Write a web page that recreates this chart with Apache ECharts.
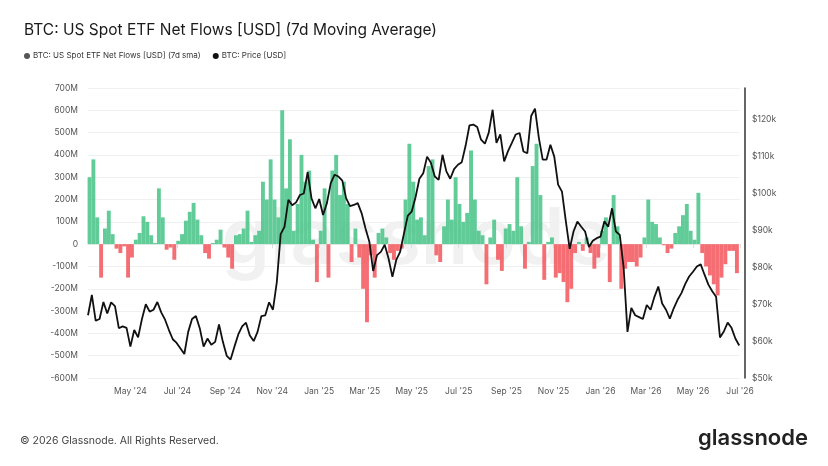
<!DOCTYPE html>
<html><head><meta charset="utf-8">
<script src="https://cdn.jsdelivr.net/npm/echarts@6/dist/echarts.min.js"></script>
<style>html,body{margin:0;padding:0;background:#fff}#c{width:828px;height:466px}</style>
</head><body><div id="c"></div>
<script>
// Axis range (daily categories) and sampling step of the read values
const startDate = '2024-03-07';
const endDate = '2026-07-01';
const sampleStepDays = 5;

// 7d SMA net flows, millions USD, one value every 5 days from startDate
const flows = [
 300,380,120,-150,70,150,45,-20,-40,-10,
 -150,-60,20,50,125,100,40,5,250,120,
 -25,-15,-70,15,45,105,145,185,110,40,
 -40,-65,5,20,65,-15,-60,-110,40,45,
 70,150,10,40,60,280,200,380,200,120,
 600,250,470,60,180,400,280,330,20,-170,
 60,250,-150,330,400,220,280,180,-80,70,
 -60,-200,-350,-50,-150,50,70,30,-40,-70,
 -30,-20,200,450,280,110,120,40,350,380,
 -50,-80,80,200,110,300,180,100,140,420,
 200,60,40,-180,30,110,-70,-120,70,90,
 60,300,80,-110,10,350,450,220,-160,10,
 30,-150,-130,-170,-260,-200,-40,10,-30,30,
 -40,-110,-60,60,120,-170,220,80,-200,-110,
 -80,-80,-100,-60,30,200,100,90,30,-5,
 -40,-20,50,80,130,180,60,20,230,-40,
 -100,-140,-180,-230,-150,-90,-30,-30,-130,-280
];

// BTC price, thousands USD, same dates
const prices = [
 67.0,72.5,65.5,66.0,70.6,67.5,70.5,69.5,63.5,64.0,
 63.6,58.5,63.0,61.0,66.0,70.0,68.0,68.5,70.6,67.8,
 65.8,63.0,60.5,59.5,58.0,56.5,62.5,66.0,66.8,63.5,
 58.5,60.7,59.0,59.8,64.5,59.8,56.0,55.0,58.5,61.8,
 64.0,65.0,61.5,60.0,62.5,66.8,67.0,70.5,68.5,76.0,
 89.0,91.0,98.3,96.8,97.6,99.6,100.0,105.8,98.7,96.0,
 98.5,94.2,97.4,102.8,105.1,104.6,103.5,98.7,96.6,96.9,
 97.4,94.7,90.6,87.0,79.0,83.3,84.2,86.1,82.4,77.4,
 82.0,84.2,89.2,94.0,95.1,99.0,104.0,105.5,110.0,108.3,
 104.6,103.7,110.5,106.0,104.0,106.6,107.8,108.5,113.0,118.5,
 118.7,118.0,114.6,113.5,116.5,122.7,113.7,116.0,108.7,111.5,
 113.7,116.0,116.4,111.4,110.9,121.0,123.0,115.1,109.2,109.2,
 113.2,110.0,102.4,100.5,92.5,85.0,89.7,92.4,91.0,89.7,
 85.5,87.2,87.9,88.3,92.5,91.0,96.0,89.7,88.8,80.0,
 62.5,69.0,67.0,66.5,66.0,69.8,68.5,72.0,74.8,70.2,
 68.5,66.1,68.9,71.2,73.0,75.5,77.5,78.8,80.2,80.8,
 78.0,75.3,73.5,72.0,61.0,62.6,65.0,63.6,60.7,58.8
];

const monthNames = ['Jan','Feb','Mar','Apr','May','Jun','Jul','Aug','Sep','Oct','Nov','Dec'];
const labelMonths = [1,3,5,7,9,11];
const seriesNames = ['BTC: US Spot ETF Net Flows [USD] (7d sma)', 'BTC: Price [USD]'];

// Build daily category list
const days = [];
{
  let t = Date.parse(startDate + 'T00:00:00Z');
  const tEnd = Date.parse(endDate + 'T00:00:00Z');
  while (t <= tEnd) { days.push(new Date(t).toISOString().slice(0, 10)); t += 86400000; }
}
const flowData = days.map(() => '-');
const priceData = days.map(() => '-');
flows.forEach((v, i) => { const k = i * sampleStepDays + 2; if (k < days.length) flowData[k] = v; });
prices.forEach((v, i) => { const k = i * sampleStepDays; if (k < days.length) priceData[k] = v; });

function isLabelDay(val) {
  const m = +val.slice(5, 7), d = +val.slice(8, 10);
  return d === 1 && labelMonths.indexOf(m) >= 0;
}

const chart = echarts.init(document.getElementById('c'), null, {renderer: 'canvas'});
chart.setOption({
  animation: false,
  backgroundColor: '#fff',
  textStyle: {fontFamily: 'Inter, "Noto Sans", sans-serif'},
  title: {
    text: 'BTC: US Spot ETF Net Flows [USD] (7d Moving Average)',
    left: 19, top: 17,
    textStyle: {fontSize: 15.5, fontWeight: 'normal', color: '#1a1a1a', fontFamily: 'Inter, "Noto Sans", sans-serif'}
  },
  legend: {
    left: 19, top: 47, icon: 'circle', itemWidth: 6, itemHeight: 6, itemGap: 12,
    textStyle: {fontSize: 8, color: '#333', padding: [0, 0, 0, -2]},
    data: [
      {name: seriesNames[0], itemStyle: {color: '#555'}},
      {name: seriesNames[1], itemStyle: {color: '#111'}}
    ]
  },
  grid: {left: 88, right: 88, top: 88, bottom: 88},
  xAxis: {
    type: 'category', data: days, boundaryGap: false,
    axisLine: {show: false},
    axisTick: {show: true, length: 4, interval: (i, v) => isLabelDay(v), lineStyle: {color: '#ddd'}},
    axisLabel: {
      interval: (i, v) => isLabelDay(v),
      formatter: v => monthNames[+v.slice(5, 7) - 1] + " '" + v.slice(2, 4),
      color: '#555', fontSize: 8.5, margin: 9
    },
    splitLine: {show: false}
  },
  yAxis: [
    {
      type: 'value', min: -600, max: 700, interval: 100,
      axisLine: {show: false}, axisTick: {show: false},
      axisLabel: {formatter: v => v === 0 ? '0' : v + 'M', color: '#555', fontSize: 8.5, margin: 10},
      splitLine: {lineStyle: {color: '#f0f0f0', width: 1}}
    },
    {
      type: 'value', position: 'right', offset: 5, min: 50, max: 128.6, interval: 10,
      axisLine: {show: true, lineStyle: {color: '#333', width: 1.5}},
      axisTick: {show: false},
      axisLabel: {formatter: v => '$' + v + 'k', color: '#555', fontSize: 8.5, margin: 7, showMaxLabel: false},
      splitLine: {show: false}
    }
  ],
  graphic: [
    {type: 'text', x: 416, y: 241, z: 0, silent: true,
     style: {text: 'glassnode', font: '600 78px Inter, "Noto Sans", sans-serif', fill: 'rgba(0,0,0,0.055)', align: 'center', verticalAlign: 'middle'}},
    {type: 'text', x: 20, y: 441, silent: true,
     style: {text: '© 2026 Glassnode. All Rights Reserved.', font: '10.5px Inter, "Noto Sans", sans-serif', fill: '#444', verticalAlign: 'middle'}},
    {type: 'text', x: 808, y: 438, silent: true,
     style: {text: 'glassnode', font: '600 22px Inter, "Noto Sans", sans-serif', fill: '#222', align: 'right', verticalAlign: 'middle'}}
  ],
  series: [
    {
      name: seriesNames[0], type: 'bar', yAxisIndex: 0, data: flowData, barWidth: 3.9, z: 2,
      itemStyle: {color: p => (p.value >= 0 ? 'rgba(70,195,135,0.85)' : 'rgba(242,85,90,0.85)')}
    },
    {
      name: seriesNames[1], type: 'line', yAxisIndex: 1, data: priceData, connectNulls: true,
      showSymbol: false, z: 3, lineStyle: {color: '#111', width: 1.8}
    }
  ]
});
</script></body></html>
